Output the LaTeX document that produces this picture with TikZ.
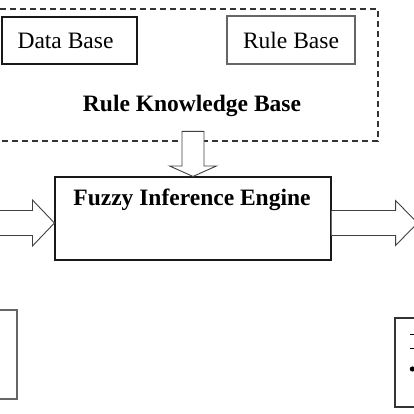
\documentclass[tikz,border=0pt]{standalone}
\usepackage{fontspec}
\setmainfont{Liberation Serif}
\usetikzlibrary{calc}

\begin{document}
\begin{tikzpicture}[x=1pt,y=-1pt,
  box/.style={draw=black!60, line width=1.3pt, inner sep=0pt,
    font=\fontsize{23.5}{28}\selectfont},
  title/.style={font=\fontsize{23.5}{28}\selectfont\bfseries, anchor=base},
  blockarrow/.style={draw=black!75, line width=0.9pt, fill=white, line join=miter}]
  \useasboundingbox (0,0) rectangle (414,414);
  \clip (0,0) rectangle (414,414);

  % knowledge base frame
  \draw [dash pattern=on 6pt off 4pt, line width=1.3pt, black!80]
    (-20,9) -- (378,9) -- (378,141) -- (-20,141);

  \path
    node[box, draw=black!90, line width=2.2pt, minimum width=135, minimum height=47]
      (database) at (69.5,40.5) {Data Base\hspace*{8pt}}
    node[box, minimum width=128, minimum height=48]
      (rulebase) at (291,40) {Rule Base}
    node[title] (kb) at (192,111.7) {Rule Knowledge Base}
    %
    node[box, draw=black!90, line width=1.1pt, minimum width=276, minimum height=83]
      (engine) at (193,218.5) {}
    node[title] (enginetitle) at (192,205) {Fuzzy Inference Engine}
    %
    % cut-off boxes at the bottom
    node[box, minimum width=40, minimum height=89] (leftbox) at (-3,354.5) {}
    node[box, draw=black!80, minimum width=40, minimum height=89] (rightbox) at (415,362.5) {}
    ;

  % fragments of text in the right box
  \draw [line width=1pt] ($(rightbox.west)+(15.5,-28.5)$) -- +(6,0);
  \draw [line width=1pt] ($(rightbox.west)+(15.5,-14.5)$) -- +(6,0);
  \fill ($(rightbox.west)+(18,6.5)$) circle (2.6);

  % block arrows
  \draw [blockarrow, shift={(engine.north)}]
    (-11,-45) -- (11,-45) -- (11,-10.5) -- (23.5,-10.5) -- (0,0)
    -- (-23.5,-10.5) -- (-11,-10.5) -- cycle;
  \draw [blockarrow, shift={($(engine.west)+(0,4.5)$)}]
    (-70,-12.5) -- (-22,-12.5) -- (-22,-23) -- (0,0)
    -- (-22,23) -- (-22,12.5) -- (-70,12.5);
  \draw [blockarrow, shift={($(engine.east)+(0,4.5)$)}]
    (0,-12.5) -- (64,-12.5) -- (64,-22.5) -- (86,0)
    -- (64,22.5) -- (64,12.5) -- (0,12.5);

\end{tikzpicture}
\end{document}
